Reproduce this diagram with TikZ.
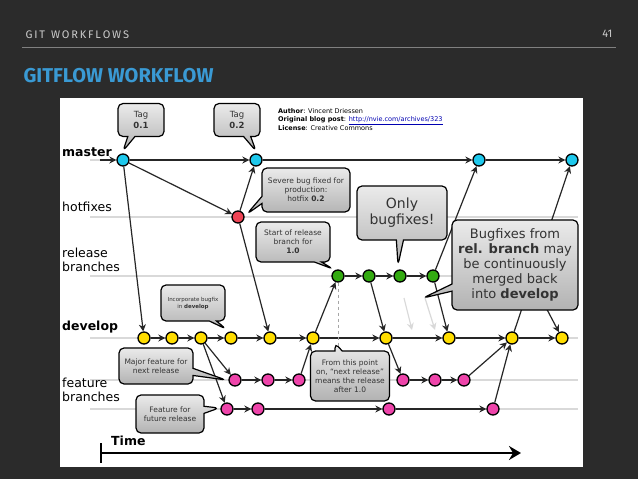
\documentclass[tikz,border=0pt]{standalone}
\usepackage{fontspec}
\setmainfont{DejaVu Sans}
\newfontfamily\hdr{Fira Sans}
\usetikzlibrary{shapes.callouts,arrows.meta}
\definecolor{bg}{HTML}{2B2B2B}
\definecolor{ttl}{HTML}{3A9AD4}
\definecolor{mcol}{HTML}{1EC8EC}
\definecolor{hcol}{HTML}{EE4455}
\definecolor{rcol}{HTML}{33AA11}
\definecolor{dcol}{HTML}{FFDD00}
\definecolor{fcol}{HTML}{EE44AA}
\tikzset{
 commitdot/.style={circle,draw=black,line width=1.3pt,minimum size=12pt,inner sep=0pt},
 mst/.style={commitdot,fill=mcol}, hot/.style={commitdot,fill=hcol}, rel/.style={commitdot,fill=rcol},
 dev/.style={commitdot,fill=dcol}, fea/.style={commitdot,fill=fcol},
 ar/.style={-{Stealth[length=7pt,width=7pt]},line width=1.2pt,black!85},
 faint/.style={-{Stealth[length=7pt,width=7pt]},line width=1.2pt,black!15},
 lane/.style={black!15,line width=1.5pt},
 lbl/.style={anchor=west,font=\fontsize{12.5}{14}\selectfont,inner sep=0pt},
 bub/.style={rectangle callout,draw=black,line width=1.2pt,rounded corners=5pt,top color=black!8,bottom color=black!30,align=center,inner sep=3pt,font=\fontsize{7.5}{9}\selectfont,text=black!80},
}
\begin{document}
\begin{tikzpicture}[x=1pt,y=-1pt]
\fill[bg] (0,0) rectangle (638,479);
\useasboundingbox (0,0) rectangle (638,479);
\node[anchor=west,text=black!20,font=\hdr\fontsize{11}{12}\selectfont] (hd) at (22,35) {G\,I\,T\; W\,O\,R\,K\,F\,L\,O\,W\,S};
\node[anchor=east,text=black!20,font=\hdr\fontsize{11}{12}\selectfont] (pg) at (616,34) {41};
\draw[black!50] (22,47) -- (616,47);
\node[anchor=west,text=ttl,font=\hdr\bfseries\fontsize{20}{22}\selectfont] (tt) at (20,76) {GITFLOW WORKFLOW};
\fill[white] (60,98) rectangle (583,467);
% lanes
\foreach \y in {217,276,338,380,409} \draw[lane] (90,\y) -- (578,\y);
\draw[lane] (90,160) -- (110,160);
% labels
\node[lbl,font=\bfseries\fontsize{12.5}{14}\selectfont] (lm) at (62,152) {master};
\node[lbl] (lh) at (62,207) {hotfixes};
\node[lbl,align=left,anchor=north west] (lr) at (62,248) {release\\branches};
\node[lbl,font=\bfseries\fontsize{12.5}{14}\selectfont] (ld) at (62,327) {develop};
\node[lbl,align=left,anchor=north west] (lf) at (62,378) {feature\\branches};
\node[anchor=north west,align=left,inner sep=0pt,font=\fontsize{6.5}{8}\selectfont] (au) at (278,108) {\textbf{Author}: Vincent Driessen\\\textbf{Original blog post}: \textcolor{blue!70!black}{\underline{http://nvie.com/archives/323}}\\\textbf{License}: Creative Commons};
% commits
\node[mst] (m1) at (123,160) {}; \node[mst] (m2) at (256,160) {};
\node[mst] (m3) at (479,160) {}; \node[mst] (m4) at (572,160) {};
\node[hot] (h1) at (238,217) {};
\foreach \n/\x in {r1/338,r2/369,r3/400,r4/433} \node[rel] (\n) at (\x,276) {};
\foreach \n/\x in {d1/144,d2/172,d3/201,d4/231,d5/270,d6/313,d7/386,d8/449,d9/512,d10/562} \node[dev] (\n) at (\x,338) {};
\foreach \n/\x in {f1/235,f2/268,f3/299,f4/403,f5/435,f6/464} \node[fea] (\n) at (\x,380) {};
\foreach \n/\x in {g1/227,g2/258,g3/389,g4/493} \node[fea] (\n) at (\x,409) {};
\coordinate (min) at (100,160);
\coordinate (rx) at (542,300);
\coordinate (fa1) at (404,298); \coordinate (fb1) at (412,330);
\coordinate (fa2) at (425,298); \coordinate (fb2) at (435,330);
% edges
\foreach \a/\b in {min/m1,m1/m2,m2/m3,m3/m4,m1/h1,h1/m2,h1/d5,m1/d1,r1/r2,r2/r3,r3/r4,d6/r1,r2/d7,r4/m3,r4/d8,
 d1/d2,d2/d3,d3/d4,d4/d5,d5/d6,d6/d7,d7/d8,d8/d9,d9/d10,d3/f1,d3/g1,f1/f2,f2/f3,f3/d6,d7/f4,f4/f5,f5/f6,f6/d9,
 g1/g2,g2/g3,g3/g4,g4/d9,d9/m4,rx/d10}
 \draw[ar] (\a) -- (\b);
\draw[faint] (fa1) -- (fb1); \draw[faint] (fa2) -- (fb2);
\draw[black!35,dashed] (r1) -- (338,352);
% callouts
\node[bub,minimum width=46pt,minimum height=33pt,font=\fontsize{8.5}{10.5}\selectfont,callout absolute pointer={(123,151)}] (c1) at (141,120) {Tag\\\textbf{0.1}};
\node[bub,minimum width=46pt,minimum height=33pt,font=\fontsize{8.5}{10.5}\selectfont,callout absolute pointer={(256,151)}] (c2) at (237,120) {Tag\\\textbf{0.2}};
\node[bub,minimum width=88pt,minimum height=44pt,callout absolute pointer={(247,214)}] (c3) at (306,190) {Severe bug fixed for\\production:\\hotfix \textbf{0.2}};
\node[bub,minimum width=74pt,minimum height=40pt,callout absolute pointer={(333,269)}] (c4) at (293,242) {Start of release\\branch for\\\textbf{1.0}};
\node[bub,minimum width=90pt,minimum height=54pt,font=\fontsize{14}{16}\selectfont,callout absolute pointer={(398,265)}] (c5) at (402,213) {Only\\bugfixes!};
\node[bub,minimum width=126pt,minimum height=90pt,font=\fontsize{13}{15}\selectfont,callout absolute pointer={(423,298)}] (c6) at (515,265) {Bugfixes from\\\textbf{rel. branch} may\\be continuously\\merged back\\into \textbf{develop}};
\node[bub,minimum width=64pt,minimum height=36pt,font=\fontsize{5.5}{7}\selectfont,callout absolute pointer={(226,329)}] (c7) at (193,303) {Incorporate bugfix\\in \textbf{develop}};
\node[bub,minimum width=74pt,minimum height=36pt,callout absolute pointer={(226,380)}] (c8) at (156,366) {Major feature for\\next release};
\node[bub,minimum width=79pt,minimum height=50pt,callout absolute pointer={(335,343)}] (c9) at (350,376) {From this point\\on, ``next release''\\means the release\\after 1.0};
\node[bub,minimum width=68pt,minimum height=38pt,callout absolute pointer={(219,408)}] (c10) at (170,414) {Feature for\\future release};
% time
\node[anchor=west,font=\bfseries\fontsize{12.5}{14}\selectfont,inner sep=0pt] (tm) at (111,441) {Time};
\coordinate (t0) at (101,453); \coordinate (t1) at (521,453);
\draw[line width=2.5pt,-{Stealth[length=12pt,width=14pt,inset=4pt]}] (t0) -- (t1);
\draw[line width=2.5pt] (101,443) -- (101,463);
\end{tikzpicture}
\end{document}
